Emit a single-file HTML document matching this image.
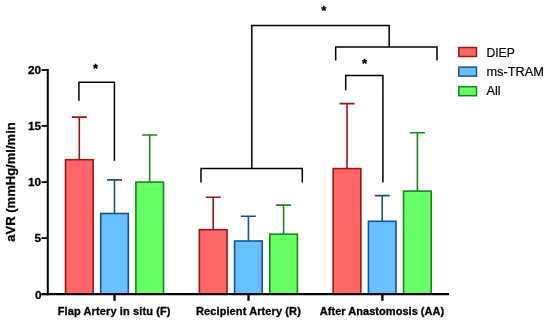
<!DOCTYPE html>
<html><head><meta charset="utf-8"><title>aVR chart</title>
<style>
html,body{margin:0;padding:0;background:#fff;}
body{width:550px;height:323px;overflow:hidden;}
svg{display:block;}
text{font-family:"Liberation Sans",Arial,sans-serif;fill:#000;}
.b{font-weight:bold;stroke:#000;stroke-width:0.3px;}
.l{stroke:#000;stroke-width:0.2px;}
.a{font-weight:bold;stroke:#000;stroke-width:0.35px;stroke-linejoin:round;}
</style></head><body>
<svg width="550" height="323" viewBox="0 0 550 323">
<rect width="550" height="323" fill="#fff"/>

<rect x="65.5" y="159.7" width="27.6" height="134.5" fill="#FF6666" stroke="#9C1414" stroke-width="1.6"/>
<path d="M79.3 159.7V117.1M71.8 117.1H86.8" fill="none" stroke="#9C1414" stroke-width="1.6"/>
<rect x="100.7" y="213.5" width="27.6" height="80.7" fill="#66C2FF" stroke="#1B4F94" stroke-width="1.6"/>
<path d="M114.5 213.5V179.9M107.0 179.9H122.0" fill="none" stroke="#1B4F94" stroke-width="1.6"/>
<rect x="135.9" y="182.1" width="27.6" height="112.1" fill="#66FF66" stroke="#17851A" stroke-width="1.6"/>
<path d="M149.7 182.1V135.0M142.2 135.0H157.2" fill="none" stroke="#17851A" stroke-width="1.6"/>
<rect x="199.4" y="229.7" width="27.6" height="64.5" fill="#FF6666" stroke="#9C1414" stroke-width="1.6"/>
<path d="M213.2 229.7V197.2M205.7 197.2H220.7" fill="none" stroke="#9C1414" stroke-width="1.6"/>
<rect x="234.6" y="241.0" width="27.6" height="53.2" fill="#66C2FF" stroke="#1B4F94" stroke-width="1.6"/>
<path d="M248.4 241.0V216.3M240.9 216.3H255.9" fill="none" stroke="#1B4F94" stroke-width="1.6"/>
<rect x="269.8" y="234.2" width="27.6" height="60.0" fill="#66FF66" stroke="#17851A" stroke-width="1.6"/>
<path d="M283.6 234.2V205.1M276.1 205.1H291.1" fill="none" stroke="#17851A" stroke-width="1.6"/>
<rect x="333.2" y="168.6" width="27.6" height="125.6" fill="#FF6666" stroke="#9C1414" stroke-width="1.6"/>
<path d="M347.0 168.6V103.6M339.5 103.6H354.5" fill="none" stroke="#9C1414" stroke-width="1.6"/>
<rect x="368.4" y="221.3" width="27.6" height="72.9" fill="#66C2FF" stroke="#1B4F94" stroke-width="1.6"/>
<path d="M382.2 221.3V195.6M374.7 195.6H389.7" fill="none" stroke="#1B4F94" stroke-width="1.6"/>
<rect x="403.6" y="191.1" width="27.6" height="103.1" fill="#66FF66" stroke="#17851A" stroke-width="1.6"/>
<path d="M417.4 191.1V132.8M409.9 132.8H424.9" fill="none" stroke="#17851A" stroke-width="1.6"/>
<g stroke="#000" stroke-width="2" fill="none">
<path d="M47.8 69V295.3"/>
<path d="M41.4 294.2H449" stroke-width="2.3"/>
<path d="M41.6 294.2H47.8" stroke-width="1.8"/>
<path d="M41.6 238.1H47.8" stroke-width="1.8"/>
<path d="M41.6 182.1H47.8" stroke-width="1.8"/>
<path d="M41.6 126.0H47.8" stroke-width="1.8"/>
<path d="M41.6 70.0H47.8" stroke-width="1.8"/>
<path d="M114.5 294.2V300.8" stroke-width="2.3"/>
<path d="M248.5 294.2V300.8" stroke-width="2.3"/>
<path d="M382.4 294.2V300.8" stroke-width="2.3"/>
</g>
<g stroke="#000" stroke-width="1.5" fill="none">
<path d="M78.9 100.8V82.3H114.4V160.8"/>
<path d="M201 182.4V168.4H302.3V182.4"/>
<path d="M251.8 168.4V25.4H389.2V46.9"/>
<path d="M335.7 60.5V46.9H437V60.5"/>
<path d="M345.7 90.3V75.6H382.9V182.4"/>
</g>
<text class="a" x="95.5" y="73.2" font-size="13" text-anchor="middle">*</text>
<text class="a" x="323.9" y="15.2" font-size="13" text-anchor="middle">*</text>
<text class="a" x="364.6" y="67.9" font-size="13" text-anchor="middle">*</text>
<text class="b" x="41.6" y="299" font-size="11.8" text-anchor="end">0</text>
<text class="b" x="41.1" y="242" font-size="11.8" text-anchor="end">5</text>
<text class="b" x="41.1" y="186" font-size="11.8" text-anchor="end">10</text>
<text class="b" x="41.1" y="130" font-size="11.8" text-anchor="end">15</text>
<text class="b" x="41.1" y="74" font-size="11.8" text-anchor="end">20</text>
<text class="b" x="114.1" y="315.3" font-size="11" text-anchor="middle" textLength="112.8" lengthAdjust="spacing">Flap Artery in situ (F)</text>
<text class="b" x="248.4" y="315.3" font-size="11" text-anchor="middle" textLength="104.8" lengthAdjust="spacing">Recipient Artery (R)</text>
<text class="b" x="382.0" y="315.3" font-size="11" text-anchor="middle" textLength="124.4" lengthAdjust="spacing">After Anastomosis (AA)</text>
<text class="b" transform="translate(14.8 182) rotate(-90)" font-size="13.6" text-anchor="middle" textLength="119.5" lengthAdjust="spacingAndGlyphs">aVR (mmHg/ml/min</text>
<rect x="458.8" y="47.5" width="17.7" height="9.0" fill="#FF6666" stroke="#9C1414" stroke-width="1.5"/>
<text class="l" x="486.4" y="57" font-size="13.4" textLength="28.4" lengthAdjust="spacingAndGlyphs">DIEP</text>
<rect x="458.8" y="67.1" width="17.7" height="9.0" fill="#66C2FF" stroke="#1B4F94" stroke-width="1.5"/>
<text class="l" x="486.4" y="76" font-size="13.4" textLength="57.6" lengthAdjust="spacingAndGlyphs">ms-TRAM</text>
<rect x="458.8" y="86.7" width="17.7" height="9.0" fill="#66FF66" stroke="#17851A" stroke-width="1.5"/>
<text class="l" x="486.4" y="95" font-size="13.4" textLength="14.2" lengthAdjust="spacingAndGlyphs">All</text>
</svg></body></html>
